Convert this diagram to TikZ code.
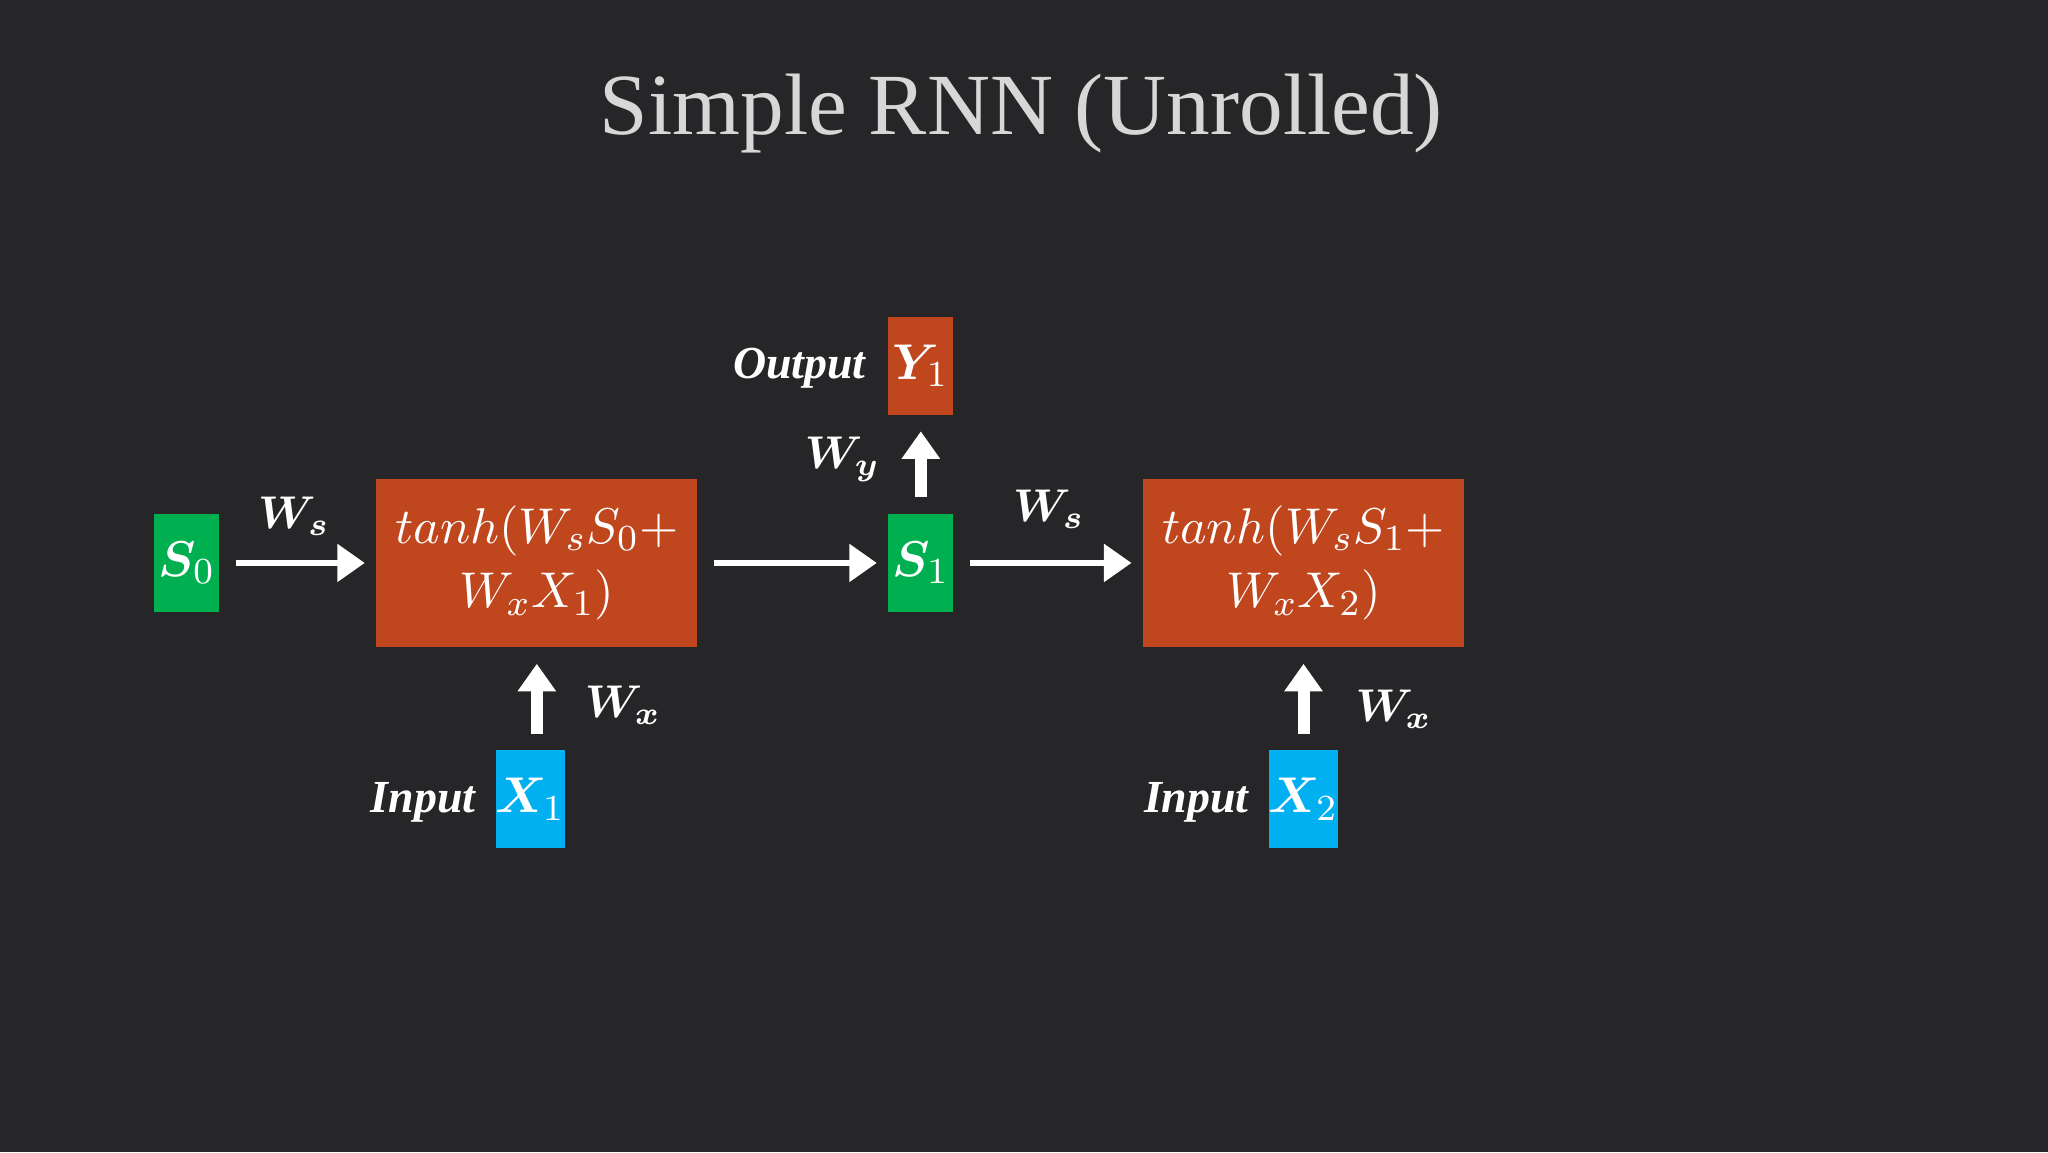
\documentclass[tikz,border=0pt]{standalone}
\usepackage{fontspec}
\usepackage{bm}
\setmainfont{Liberation Serif}
\usetikzlibrary{arrows.meta}
\definecolor{bgdark}{RGB}{38,38,40}
\definecolor{rnngreen}{RGB}{0,176,80}
\definecolor{rnnorange}{RGB}{192,70,30}
\definecolor{rnnblue}{RGB}{0,176,240}
\definecolor{titlegray}{RGB}{215,215,215}
\tikzset{
  cell/.style={fill=rnnorange,minimum width=2.46cm,minimum height=1.29cm,inner sep=0pt,
    align=center,text=white,font=\fontsize{11}{14}\selectfont},
  small/.style={minimum width=0.5cm,minimum height=0.75cm,inner sep=0pt,text=white,
    font=\fontsize{11}{13}\selectfont},
  lbl/.style={text=white,font=\fontsize{10}{12}\selectfont\bfseries\itshape},
  flow/.style={draw=white,line width=1.4pt,-{Triangle[length=6pt,width=8pt]},
    shorten <=0.12cm,shorten >=0.08cm},
  up/.style={draw=white,line width=2.6pt,-{Triangle[length=6pt,width=8pt]},
    shorten <=0.12cm,shorten >=0.12cm}
}
\begin{document}
\begin{tikzpicture}
  \fill[bgdark] (0,0) rectangle (15.68,8.82);
  \useasboundingbox (0,0) rectangle (15.68,8.82);

  % title
  \node[text=titlegray,font=\fontsize{19}{23}\selectfont] (title) at (7.82,7.95) {Simple RNN (Unrolled)};

  % states and cells
  \node[small,fill=rnngreen] (s0) at (1.43,4.51) {$\bm{S}_0$};
  \node[cell] (c1) at (4.11,4.51) {$tanh(W_sS_0+$\\$W_xX_1)$};
  \node[small,fill=rnngreen] (s1) at (7.05,4.51) {$\bm{S}_1$};
  \node[cell] (c2) at (9.98,4.51) {$tanh(W_sS_1+$\\$W_xX_2)$};
  \node[small,fill=rnnorange] (y1) at (7.05,6.02) {$\bm{Y}_1$};
  \node[small,fill=rnnblue] (x1) at (4.06,2.70) {$\bm{X}_1$};
  \node[small,fill=rnnblue,minimum width=0.48cm] (x2) at (9.98,2.70) {$\bm{X}_2$};

  % arrows
  \draw[flow] (s0) -- (c1);
  \draw[flow] (c1) -- (s1);
  \draw[flow] (s1) -- (c2);
  \draw[up] (s1) -- (y1);
  \draw[up] (x1.north -| c1) -- (c1);
  \draw[up] (x2) -- (c2);

  % labels
  \node[lbl] (ws1) at (2.25,4.87) {$\bm{W_s}$};
  \node[lbl] (ws2) at (8.03,4.92) {$\bm{W_s}$};
  \node[lbl] (wy) at (6.45,5.30) {$\bm{W_y}$};
  \node[lbl] (wx1) at (4.77,3.42) {$\bm{W_x}$};
  \node[lbl] (wx2) at (10.67,3.39) {$\bm{W_x}$};
  \node[lbl] (out) at (6.12,6.00) {Output};
  \node[lbl] (in1) at (3.24,2.68) {Input};
  \node[lbl] (in2) at (9.16,2.68) {Input};
\end{tikzpicture}
\end{document}
